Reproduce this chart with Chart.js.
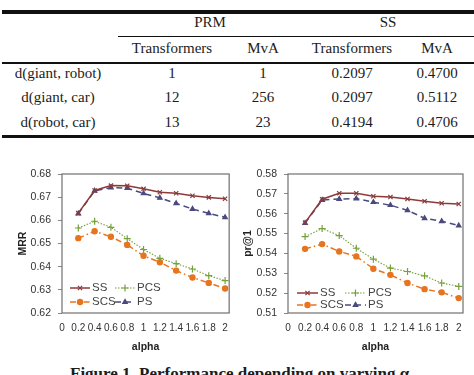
<!DOCTYPE html>
<html>
<head>
<meta charset="utf-8">
<script src="https://cdn.jsdelivr.net/npm/chart.js@4.4.1/dist/chart.umd.min.js"></script>
<style>
    body { margin: 0; background: #fff; width: 474px; height: 375px; overflow: hidden; position: relative;
           font-family: "Liberation Serif", "Times New Roman", serif; color: #1c1c1c; }
    .rule { position: absolute; background: #111; }
    .cell { position: absolute; transform: translate(-50%, -50%); white-space: nowrap; font-size: 15px; line-height: 18px; }
    .box { position: absolute; }
    .caption { position: absolute; left: 70px; top: 365px; font-weight: bold; font-size: 17px; line-height: 17px; white-space: nowrap; }
</style>
</head>
<body>
<div id="table"></div>
<div class="box" style="left:0;top:150px"><canvas id="mrrChart" width="237" height="210"></canvas></div>
<div class="box" style="left:237px;top:150px"><canvas id="precChart" width="237" height="210"></canvas></div>
<div class="caption">Figure 1. Performance depending on varying &alpha;</div>
<script>
// table content
const tableGroups = ['PRM', 'SS'];
const tableColumns = ['Transformers', 'MvA', 'Transformers', 'MvA'];
const tableRowLabels = ['d(giant, robot)', 'd(giant, car)', 'd(robot, car)'];
const prmTransformers = ['1', '12', '13'];
const prmMvA = ['1', '256', '23'];
const ssTransformers = ['0.2097', '0.2097', '0.4194'];
const ssMvA = ['0.4700', '0.5112', '0.4706'];

// chart data
const alphaValues = [0.2, 0.4, 0.6, 0.8, 1.0, 1.2, 1.4, 1.6, 1.8, 2.0];
const seriesNames = ['SS', 'PCS', 'SCS', 'PS'];
const mrrSS  = [0.6631, 0.6729, 0.6750, 0.6749, 0.6736, 0.6721, 0.6717, 0.6706, 0.6699, 0.6693];
const mrrPCS = [0.6567, 0.6596, 0.6570, 0.6521, 0.6474, 0.6436, 0.6413, 0.6390, 0.6361, 0.6340];
const mrrSCS = [0.6523, 0.6553, 0.6529, 0.6494, 0.6447, 0.6419, 0.6383, 0.6353, 0.6330, 0.6306];
const mrrPS  = [0.6629, 0.6727, 0.6741, 0.6739, 0.6716, 0.6697, 0.6673, 0.6649, 0.6630, 0.6613];
const prSS  = [0.5555, 0.5673, 0.5703, 0.5703, 0.5688, 0.5684, 0.5674, 0.5663, 0.5653, 0.5649];
const prPCS = [0.5485, 0.5525, 0.5490, 0.5426, 0.5371, 0.5326, 0.5309, 0.5287, 0.5251, 0.5234];
const prSCS = [0.5423, 0.5447, 0.5410, 0.5385, 0.5323, 0.5292, 0.5251, 0.5220, 0.5204, 0.5175];
const prPS  = [0.5553, 0.5669, 0.5674, 0.5676, 0.5658, 0.5643, 0.5617, 0.5577, 0.5562, 0.5540];

// ---- table ----
const table = document.getElementById('table');
function addRule(x, y, w, h) {
    table.insertAdjacentHTML('beforeend', `<div class="rule" style="left:${x}px;top:${y}px;width:${w}px;height:${h}px"></div>`);
}
function addCell(text, x, y) {
    table.insertAdjacentHTML('beforeend', `<div class="cell" style="left:${x}px;top:${y}px">${text}</div>`);
}
addRule(2, 10, 472, 3.5);
addRule(118, 36, 356, 1.3);
addRule(2, 62, 472, 1.5);
addRule(2, 135, 472, 3);

const groupX = [210, 388];
const columnX = [172, 263, 352, 437];
const rowY = [73, 97, 122];
tableGroups.forEach((g, i) => addCell(g, groupX[i], 22));
tableColumns.forEach((c, i) => addCell(c, columnX[i], 48));
const tableValues = [prmTransformers, prmMvA, ssTransformers, ssMvA];
tableRowLabels.forEach((label, r) => {
    addCell(label, 58, rowY[r]);
    tableValues.forEach((col, c) => addCell(col[r], columnX[c], rowY[r]));
});

// ---- charts ----
const seriesStyles = {
    SS:  { color: '#8c3a3a', dash: [],              width: 1.5, point: 'crossRot', radius: 3 },
    PCS: { color: '#76a03c', dash: [1.5, 1.5],      width: 1.1, point: 'cross',    radius: 3.5 },
    SCS: { color: '#e8741e', dash: [6, 3, 1.5, 3],  width: 1.5, point: 'circle',   radius: 2.6 },
    PS:  { color: '#4b4a7e', dash: [6, 4],          width: 1.5, point: 'triangle', radius: 2.6 }
};

function makeDatasets(seriesValues) {
    return seriesNames.map((name, i) => {
        const s = seriesStyles[name];
        return {
            label: name,
            data: alphaValues.map((a, j) => ({ x: a, y: seriesValues[i][j] })),
            borderColor: s.color,
            backgroundColor: s.color,
            borderWidth: s.width,
            borderDash: s.dash,
            pointStyle: s.point,
            pointRadius: s.radius,
            pointBorderWidth: 1.2,
            pointBackgroundColor: s.color,
            pointBorderColor: s.color,
            tension: 0
        };
    });
}

const plotFrame = {
    id: 'plotFrame',
    beforeDatasetsDraw(chart) {
        const { ctx, chartArea: a } = chart;
        ctx.save();
        ctx.strokeStyle = '#707070';
        ctx.lineWidth = 1.2;
        ctx.strokeRect(a.left, a.top, a.right - a.left, a.bottom - a.top);
        ctx.restore();
    }
};

const insideLegend = {
    id: 'insideLegend',
    afterDatasetsDraw(chart, args, opts) {
        const { ctx, chartArea } = chart;
        ctx.save();
        ctx.font = '11.5px "Liberation Sans", Arial, sans-serif';
        ctx.textBaseline = 'middle';
        chart.data.datasets.forEach((ds, i) => {
            const col = i % 2, row = Math.floor(i / 2);
            const x0 = chartArea.left + opts.colX[col];
            const x1 = x0 + opts.lineLen;
            const y = chartArea.bottom - opts.rowY[row];
            ctx.strokeStyle = ds.borderColor;
            ctx.fillStyle = ds.borderColor;
            ctx.lineWidth = ds.borderWidth;
            ctx.setLineDash(ds.borderDash);
            ctx.beginPath();
            ctx.moveTo(x0, y);
            ctx.lineTo(x1, y);
            ctx.stroke();
            ctx.setLineDash([]);
            ctx.lineWidth = 1.2;
            Chart.helpers.drawPoint(ctx, { pointStyle: ds.pointStyle, radius: ds.pointRadius, rotation: 0, borderWidth: 1.2 }, (x0 + x1) / 2, y);
            ctx.fillStyle = '#444';
            ctx.fillText(ds.label, x1 + 2, y);
        });
        ctx.restore();
    }
};

function makeChart(canvasId, seriesValues, cfg) {
    return new Chart(document.getElementById(canvasId), {
        type: 'line',
        data: { datasets: makeDatasets(seriesValues) },
        plugins: [plotFrame, insideLegend],
        options: {
            responsive: false,
            animation: false,
            layout: { padding: { top: 24, right: cfg.padRight, left: 0, bottom: 0 } },
            plugins: {
                legend: { display: false },
                tooltip: { enabled: false },
                insideLegend: cfg.legend
            },
            scales: {
                x: {
                    type: 'linear',
                    min: 0,
                    max: 2.05,
                    grid: { display: false, drawTicks: false },
                    border: { display: false },
                    ticks: {
                        stepSize: 0.2,
                        includeBounds: false,
                        autoSkip: false,
                        maxRotation: 0,
                        minRotation: 0,
                        padding: 9,
                        color: '#333',
                        font: { family: '"Liberation Sans", Arial, sans-serif', size: 10 },
                        callback: v => String(+v.toFixed(1))
                    },
                    title: {
                        display: true,
                        text: 'alpha',
                        color: '#222',
                        padding: { top: 0, bottom: 6.7 },
                        font: { family: '"Liberation Sans", Arial, sans-serif', size: 10.5, weight: 'bold' }
                    },
                    afterFit: s => { s.height = 47; }
                },
                y: {
                    min: cfg.yMin,
                    max: cfg.yMax,
                    grid: { drawOnChartArea: false, drawTicks: true, tickLength: 4, color: '#888' },
                    border: { display: false },
                    ticks: {
                        stepSize: 0.01,
                        padding: 7,
                        color: '#333',
                        font: { family: '"Liberation Sans", Arial, sans-serif', size: 10.5 },
                        callback: v => v.toFixed(2)
                    },
                    title: {
                        display: true,
                        text: cfg.yTitle,
                        color: '#222',
                        padding: { top: cfg.yTitlePad, bottom: 0 },
                        font: { family: '"Liberation Sans", Arial, sans-serif', size: 10.5, weight: 'bold' }
                    },
                    afterFit: s => { s.width = cfg.plotLeft; }
                }
            }
        }
    });
}

makeChart('mrrChart', [mrrSS, mrrPCS, mrrSCS, mrrPS], {
    yMin: 0.62, yMax: 0.68, yTitle: 'MRR', yTitlePad: 16.7, plotLeft: 62, padRight: 2,
    legend: { colX: [8, 53], lineLen: 20, rowY: [25, 11] }
});
makeChart('precChart', [prSS, prPCS, prSCS, prPS], {
    yMin: 0.51, yMax: 0.58, yTitle: 'pr@1', yTitlePad: 4.7, plotLeft: 51, padRight: 11,
    legend: { colX: [9, 57], lineLen: 21, rowY: [20, 8] }
});
</script>
</body>
</html>
